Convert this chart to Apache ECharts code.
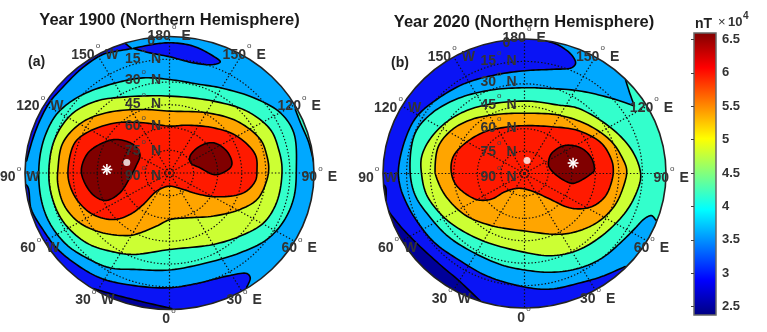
<!DOCTYPE html>
<html><head><meta charset="utf-8">
<style>html,body{margin:0;padding:0;background:#fff}#c{width:767px;height:332px}</style>
<script src="https://cdn.jsdelivr.net/npm/echarts@6/dist/echarts.min.js"></script>
</head><body><div id="c"></div>
<script>
// Contours: [east, north] in degrees of colatitude from the pole.
// A repeated vertex marks a sharp corner of the contour.
const a_topBlue=[[-22.6,82.1],[-22.6,82.1],[-8,85.2],[2.4,85.8],[14.9,83.6],[27.4,77],[31.6,73.3],[27.4,71.5],[14.9,72.6],[0.3,76.6],[-12.2,79.2]];
const a_leftBlue=[[-23.4,82],[-23.4,82],[-34,80.1],[-41.6,78.1],[-54,69.5],[-66.6,56.4],[-74.7,46.5],[-81,34],[-85.3,22],[-89,8],[-89,8],[-97,8],[-97,30],[-84,64],[-52,86],[-33,90],[-33,90]];
const a_bottomBlue=[[-89,-8],[-86.1,-24],[-78.9,-37.2],[-70.5,-49.3],[-58,-60.3],[-43.4,-69.1],[-26.8,-73.5],[-0.7,-75.7],[19,-72.4],[35.7,-68],[48.2,-66.3],[50.3,-69.1],[48.2,-75],[48.2,-75],[40,-92],[0,-97],[-50,-87],[-82,-50],[-97,-10],[-97,-8]];
const a_navy=[[-47.6,-76.2],[-47.6,-76.2],[-33,-80.6],[-16.4,-85],[1.4,-89.4],[1.4,-89.4],[-20,-96],[-40,-92],[-55,-82],[-55,-82]];
const a_mintSliver=[[78.4,41.8],[78.4,41.8],[81.6,33],[86.8,19.9],[89.9,6.7],[89.9,6.7],[96,8],[95,30],[82,48],[82,48]];
const a_mint=[[-81.4,2.3],[-78.9,19.9],[-72.6,35.3],[-66.4,43],[-53.9,51.8],[-33,59.5],[-16.4,62.7],[0.3,61.6],[19,58.4],[31.6,56.2],[52.4,49.6],[69,39.7],[77.4,26.5],[79,2.3],[77.4,-16.4],[71.1,-31.8],[60.7,-43.8],[44,-52.6],[19,-60.3],[-0.7,-64],[-20.5,-63.6],[-37.2,-62.5],[-51.8,-55.9],[-64.3,-47.1],[-74.7,-32.8],[-79.9,-17.5]];
const a_lime=[[-75.1,2.3],[-71.6,22],[-61.1,38.6],[-45.5,47.4],[-26.8,50.2],[0.3,50.7],[27.4,47.4],[48.2,40.8],[62.8,28.7],[68,15.5],[70.1,2.3],[67,-18.6],[58.6,-32.9],[44,-41.6],[27.4,-47.1],[0.3,-50.4],[-22.6,-53.7],[-35.1,-52],[-51.8,-46],[-66.4,-31.8],[-73.6,-14.2]];
const a_orange=[[-69.5,2.3],[-66.4,19.9],[-54.9,33.1],[-39.3,39.7],[-18.4,41.9],[0.3,40.8],[23.2,39.7],[42,34.2],[56.6,22.1],[60.7,11.1],[61.8,2.3],[59.7,-7.6],[54.5,-17.5],[44,-24],[27.4,-28.4],[10.7,-29.6],[0.3,-30.7],[-8,-35],[-18.4,-39.5],[-24.7,-41.2],[-41.4,-39.5],[-55.9,-32.9],[-65.3,-21.9],[-69.5,-7.6]];
const a_red=[[-63.2,2.3],[-59,19.9],[-49.7,27.6],[-33,33.1],[-16.4,33.1],[0.3,30.9],[10.7,31.5],[27.4,29.8],[42,24.3],[53.4,12.2],[54.5,2.3],[53.4,-5.4],[46.1,-13.1],[29.5,-15.7],[17,-13.7],[6.6,-10.2],[-0.7,-8.7],[-8,-12],[-16.4,-20.8],[-24.7,-27.4],[-35.1,-30.7],[-47.6,-27.4],[-57,-18.6],[-62.2,-7.6]];
const a_maroonL=[[-54.9,2.3],[-50.7,13.3],[-41.4,19.9],[-33,22.1],[-22.6,18.8],[-18.4,12.2],[-20.9,4.5],[-24.7,-3.2],[-30.9,-13.1],[-39.3,-18.1],[-46.6,-15.3],[-52.8,-6.5]];
const a_maroonR=[[13.2,6.7],[12.8,11.1],[19,17.7],[27.4,19.9],[35.7,14.4],[38.9,6.7],[37.8,3.4],[31.6,-0.5],[27.4,-1],[19,3.4]];

const b_sky=[[30,70.8],[17.3,69.7],[0.3,68.8],[-18.8,65.9],[-37.8,60.3],[-54.8,50.3],[-68.6,38],[-76,22.4],[-80.2,2.3],[-79,-9],[-75,-20],[-69,-31],[-57.5,-46],[-40,-59],[-23,-69],[2.4,-76.4],[17.3,-77.3],[34.2,-73.5],[49,-69],[63.9,-62.3],[63.9,-62.3],[72,-62],[96,-40],[99,0],[96,40],[72,72],[40,92],[13,92],[13,89],[13,89],[21.5,86],[30,79.3],[32.5,73.7]];
const b_navy=[[-89,-8],[-87.7,-22.2],[-81.3,-32.3],[-70.7,-44.5],[-55.9,-59],[-41,-72.4],[-28.3,-85.1],[-28.3,-85.1],[-25,-97],[-62,-84],[-92,-50],[-98,-8],[-98,-8]];
const b_mint=[[-72.8,2.3],[-69.6,26.9],[-59,40.3],[-42,50.3],[-20.9,55.9],[0.3,57.4],[13,57],[34.2,55.4],[55.4,50.3],[69.9,45.2],[69.9,45.2],[67,53.6],[64.3,62.6],[64.3,62.6],[72,72],[96,40],[99,0],[94,-30],[83.4,-31.1],[83.4,-31.1],[80.9,-28.2],[76.6,-30],[70.3,-36.7],[61.8,-45.6],[49,-56.8],[34.2,-63.5],[17.3,-66.1],[0.3,-64.6],[-14.5,-61.2],[-31.5,-53.4],[-48.4,-42.3],[-61.2,-27.8],[-69.6,-14.4]];
const b_lime=[[-65.4,11.3],[-59,24.6],[-46.3,36.9],[-29.4,44.7],[0.3,48.5],[21.5,45.8],[34.2,43.6],[55.4,30.2],[68.2,15.7],[73.5,2.3],[73.5,-5.5],[66,-23.3],[51.2,-40],[34.2,-51.2],[17.3,-55],[0.3,-52.8],[-25.1,-45.6],[-42.1,-36.7],[-52.7,-27.8],[-62.2,-14.4],[-65.4,-1]];
const b_orange=[[-56.9,2.3],[-54.8,18],[-46.3,29.1],[-33.6,36.2],[-16.6,39.6],[0.3,40.3],[21.5,39.1],[40.6,32.4],[55.4,21.3],[62.9,9],[65,2.3],[63.9,-5.5],[57.6,-21.1],[47,-32.2],[34.2,-38.5],[21.5,-40.7],[0.3,-38.5],[-20.9,-34.9],[-37.8,-27.8],[-50.6,-14.4],[-56.5,-1]];
const b_red=[[-46.7,2.3],[-45.3,11.3],[-37.8,20.2],[-25.1,28],[-12.4,30.9],[0.3,32],[17.3,31.3],[34.2,28.7],[49,20.2],[55.4,9],[56.5,2.3],[55.4,-5.5],[51.2,-15.5],[42.7,-22.2],[30,-23.3],[15.1,-16.6],[4.6,-11.7],[-3.9,-9.9],[-12.4,-12.2],[-20.9,-17.1],[-29.4,-17.7],[-37.8,-13.3],[-44.2,-6.6]];
const b_maroon=[[15.2,6.8],[17.3,13.5],[25.8,18.8],[36.4,16.8],[42.7,10.1],[44.4,2.3],[42.7,0.1],[34.2,-5.5],[30,-6.6],[21.5,-2.1],[16.2,3.4]];

const a_star=[-39,2.3], a_dot=[-26.6,6.9], b_star=[30.9,7], b_dot=[1.6,8.7];

const latCircles=[3,15,30,45,60,75];
const meridians=[0,30,60,90,120,150,180,210,240,270,300,330];
const lonLabels=[['0',''],['30','E'],['60','E'],['90','E'],['120','E'],['150','E'],['180','E'],['150','W'],['120','W'],['90','W'],['60','W'],['30','W']];
const latLabels=[[90,'0',''],[75,'15','N'],[60,'30','N'],[45,'45','N'],[30,'60','N'],[15,'75','N'],[0,'90','N']];
const cbTicks=[2.5,3,3.5,4,4.5,5,5.5,6,6.5];
const cbStops=['#00007f','#0000ff','#00ffff','#ffff00','#ff0000','#7f0000'];
const cbOffsets=[0,0.125,0.375,0.625,0.875,1];
const cbRange=[2.376,6.597];

const C={sky:'#00a8ff',blue:'#0a14f5',navy:'#000099',mint:'#33ffcc',lime:'#ccff33',orange:'#ffa500',red:'#ff1a00',maroon:'#800000'};
const panels=[
 {title:'Year 1900 (Northern Hemisphere)',tag:'(a)',left:25,top:36.5,w:289,h:273,base:C.sky,
  star:a_star,dot:a_dot,
  fills:[[a_topBlue,C.blue],[a_leftBlue,C.blue],[a_bottomBlue,C.blue],[a_navy,C.navy],[a_mintSliver,C.mint],[a_mint,C.mint],[a_lime,C.lime],[a_orange,C.orange],[a_red,C.red],[a_maroonL,C.maroon],[a_maroonR,C.maroon]]},
 {title:'Year 2020 (Northern Hemisphere)',tag:'(b)',left:383,top:39,w:283,h:269,base:C.blue,
  star:b_star,dot:b_dot,
  fills:[[b_navy,C.navy],[b_sky,C.sky],[b_mint,C.mint],[b_lime,C.lime],[b_orange,C.orange],[b_red,C.red],[b_maroon,C.maroon]]}
];

const FONT='"Liberation Sans",Arial,sans-serif', INK='#333';
const rad=d=>d*Math.PI/180;
function rx(api,o,r){return Math.abs(api.coord([r,0])[0]-o[0]);}
function ry(api,o,r){return Math.abs(api.coord([0,r])[1]-o[1]);}

// Draw-time rounding of a closed contour (centripetal Hermite), like a line's "smooth"
function rounded(pts){
  const n=pts.length,out=[];
  const D=(a,b)=>Math.pow(Math.hypot(a[0]-b[0],a[1]-b[1]),0.5);
  const tan=i=>{const p=pts[(i+n-1)%n],c=pts[i],q=pts[(i+1)%n],d0=D(p,c),d1=D(c,q);
    if(d0<1e-6||d1<1e-6) return [0,0];
    return [0,1].map(k=>(c[k]-p[k])/d0-(q[k]-p[k])/(d0+d1)+(q[k]-c[k])/d1);};
  for(let i=0;i<n;i++){
    const a=pts[i],b=pts[(i+1)%n],d=D(a,b);
    if(d<1e-6) continue;
    const ma=tan(i),mb=tan((i+1)%n);
    for(let s=0;s<10;s++){
      const t=s/10,t2=t*t,t3=t2*t;
      out.push([0,1].map(k=>(2*t3-3*t2+1)*a[k]+(t3-2*t2+t)*d*ma[k]+(-2*t3+3*t2)*b[k]+(t3-t2)*d*mb[k]));
    }
  }
  return out;
}

function labelParts(cx,cy,num,letter){
  const numW=num.length*7.8, lw=letter==='W'?12.5:letter===''?-4:10;
  const x=cx-(numW+10.5+lw)/2;
  const t=(s,px,py,font,fill)=>({type:'text',style:{text:s,x:px,y:py,font,fill,textAlign:'left',textVerticalAlign:'middle'}});
  const out=[t(num,x,cy,'bold 14px '+FONT,INK),t('o',x+numW+1,cy-9,'8px '+FONT,'#444')];
  if(letter) out.push(t(letter,x+numW+10.5,cy,'bold 14px '+FONT,INK));
  return out;
}

const grids=[],xAxes=[],yAxes=[],series=[];
panels.forEach((p,i)=>{
  grids.push({left:p.left,top:p.top,width:p.w,height:p.h,show:false});
  xAxes.push({type:'value',gridIndex:i,min:-90,max:90,show:false});
  yAxes.push({type:'value',gridIndex:i,min:-90,max:90,show:false});
  const base={type:'custom',xAxisIndex:i,yAxisIndex:i,silent:true,clip:false,animation:false};
  series.push({...base,z:2,data:[[0,0]],renderItem:(_,api)=>{const o=api.coord([0,0]);
    return {type:'ellipse',z2:0,shape:{cx:o[0],cy:o[1],rx:rx(api,o,90),ry:ry(api,o,90)},style:{fill:p.base}};}});
  series.push({...base,z:2,data:p.fills.map(f=>f[0][0]),renderItem:(par,api)=>{const f=p.fills[par.dataIndex];
    return {type:'polygon',z2:par.dataIndex+1,shape:{points:rounded(f[0].map(q=>api.coord(q)))},
      style:{fill:f[1],stroke:'#000',lineWidth:1.6,lineJoin:'round'}};}});
  series.push({...base,z:3,data:[[0,0]],renderItem:(_,api)=>{const o=api.coord([0,0]);
    return {type:'ellipse',shape:{cx:o[0],cy:o[1],rx:rx(api,o,90)+14,ry:ry(api,o,90)+14},style:{fill:'none',stroke:'#fff',lineWidth:28}};}});
  series.push({...base,z:4,data:latCircles.map(c=>[c,0]),renderItem:(par,api)=>{const o=api.coord([0,0]),c=latCircles[par.dataIndex];
    return {type:'ellipse',shape:{cx:o[0],cy:o[1],rx:rx(api,o,c),ry:ry(api,o,c)},style:{fill:'none',stroke:'#111',lineWidth:1.2,lineDash:[1.4,2]}};}});
  series.push({...base,z:4,data:meridians.map(m=>[m,0]),renderItem:(par,api)=>{const m=rad(meridians[par.dataIndex]);
    const a=api.coord([0,0]),b=api.coord([90*Math.sin(m),-90*Math.cos(m)]);
    return {type:'line',shape:{x1:a[0],y1:a[1],x2:b[0],y2:b[1]},style:{stroke:'#111',lineWidth:1.2,lineDash:[1.4,2]}};}});
  series.push({...base,z:4,data:[[0,0]],renderItem:(_,api)=>{const o=api.coord([0,0]);
    return {type:'group',children:[
      {type:'ellipse',shape:{cx:o[0],cy:o[1],rx:rx(api,o,90),ry:ry(api,o,90)},style:{fill:'none',stroke:'#222',lineWidth:1.6}},
      {type:'circle',shape:{cx:o[0],cy:o[1],r:1.3},style:{fill:'#222'}}]};}});
  series.push({type:'scatter',xAxisIndex:i,yAxisIndex:i,z:5,silent:true,animation:false,symbol:'circle',symbolSize:7,itemStyle:{color:'#fff'},data:[p.dot]});
  series.push({...base,z:5,data:[p.star],renderItem:(_,api)=>{const c=api.coord(p.star),r=5.4;
    return {type:'group',children:[0,45,90,135].map(d=>({type:'line',shape:{x1:c[0]-r*Math.cos(rad(d)),y1:c[1]-r*Math.sin(rad(d)),x2:c[0]+r*Math.cos(rad(d)),y2:c[1]+r*Math.sin(rad(d))},style:{stroke:'#fff',lineWidth:1.6}}))};}});
  series.push({...base,z:6,data:lonLabels.map((_,k)=>[k,0]),renderItem:(par,api)=>{const k=par.dataIndex,m=rad(meridians[k]);
    const c=api.coord([93.5*Math.sin(m),-93.5*Math.cos(m)]);
    return {type:'group',children:labelParts(c[0],c[1]+4.5,lonLabels[k][0],lonLabels[k][1])};}});
  const latDy=[4.5,0,-1.5,-1,-1,1,3.5];
  series.push({...base,z:6,data:latLabels.map((_,k)=>[k,0]),renderItem:(par,api)=>{const k=par.dataIndex,l=latLabels[k];
    const c=api.coord([l[2]?-16.5:-11.5,l[0]]);
    if(!l[2]) return {type:'text',style:{text:l[1],x:c[0],y:c[1]+latDy[k],font:'bold 14px '+FONT,fill:INK,textAlign:'center',textVerticalAlign:'middle'}};
    return {type:'group',children:labelParts(c[0],c[1]+latDy[k],l[1],l[2])};}});
});

grids.push({left:694,top:33,width:22,height:282,show:false});
xAxes.push({type:'value',gridIndex:2,min:0,max:1,show:false});
yAxes.push({type:'value',gridIndex:2,min:cbRange[0],max:cbRange[1],position:'right',
  axisLine:{show:false},splitLine:{show:false},
  axisTick:{show:true,inside:true,length:3,lineStyle:{color:'#444',width:1},customValues:cbTicks},
  axisLabel:{show:true,margin:6,color:INK,fontFamily:FONT,fontWeight:'bold',fontSize:13,customValues:cbTicks,formatter:v=>String(v)},z:8});
series.push({type:'custom',xAxisIndex:2,yAxisIndex:2,silent:true,clip:false,animation:false,z:7,data:[[0,cbRange[0]]],renderItem:(_,api)=>{
  const a=api.coord([0,cbRange[1]]),b=api.coord([1,cbRange[0]]);
  return {type:'rect',shape:{x:a[0],y:a[1],width:b[0]-a[0],height:b[1]-a[1]},
    style:{stroke:'#666',lineWidth:1.5,fill:new echarts.graphic.LinearGradient(0,1,0,0,cbStops.map((c,i)=>({offset:cbOffsets[i],color:c})))}};}});

const txt=(s,x,y,font,fill,align)=>({type:'text',z:20,x,y,style:{text:s,font,fill:fill||'#111',textAlign:align||'left',textVerticalAlign:'middle'}});
const chart=echarts.init(document.getElementById('c'),null,{renderer:'canvas'});
chart.setOption({
  animation:false,backgroundColor:'#fff',
  grid:grids,xAxis:xAxes,yAxis:yAxes,series,
  graphic:[
    txt(panels[0].title,169.5,20,'bold 16.5px '+FONT,'#1a1a1a','center'),
    txt(panels[1].title,524,22,'bold 16.5px '+FONT,'#1a1a1a','center'),
    txt(panels[0].tag,28,62,'bold 14px '+FONT,'#222'),
    txt(panels[1].tag,391,63,'bold 14px '+FONT,'#222'),
    txt('nT',695,24,'bold 14px '+FONT,'#222'),
    txt('×',718,22,'13px '+FONT,INK),
    txt('10',728,22,'bold 13px '+FONT,INK),
    txt('4',743,16,'bold 10px '+FONT,INK)
  ]
});
</script></body></html>
